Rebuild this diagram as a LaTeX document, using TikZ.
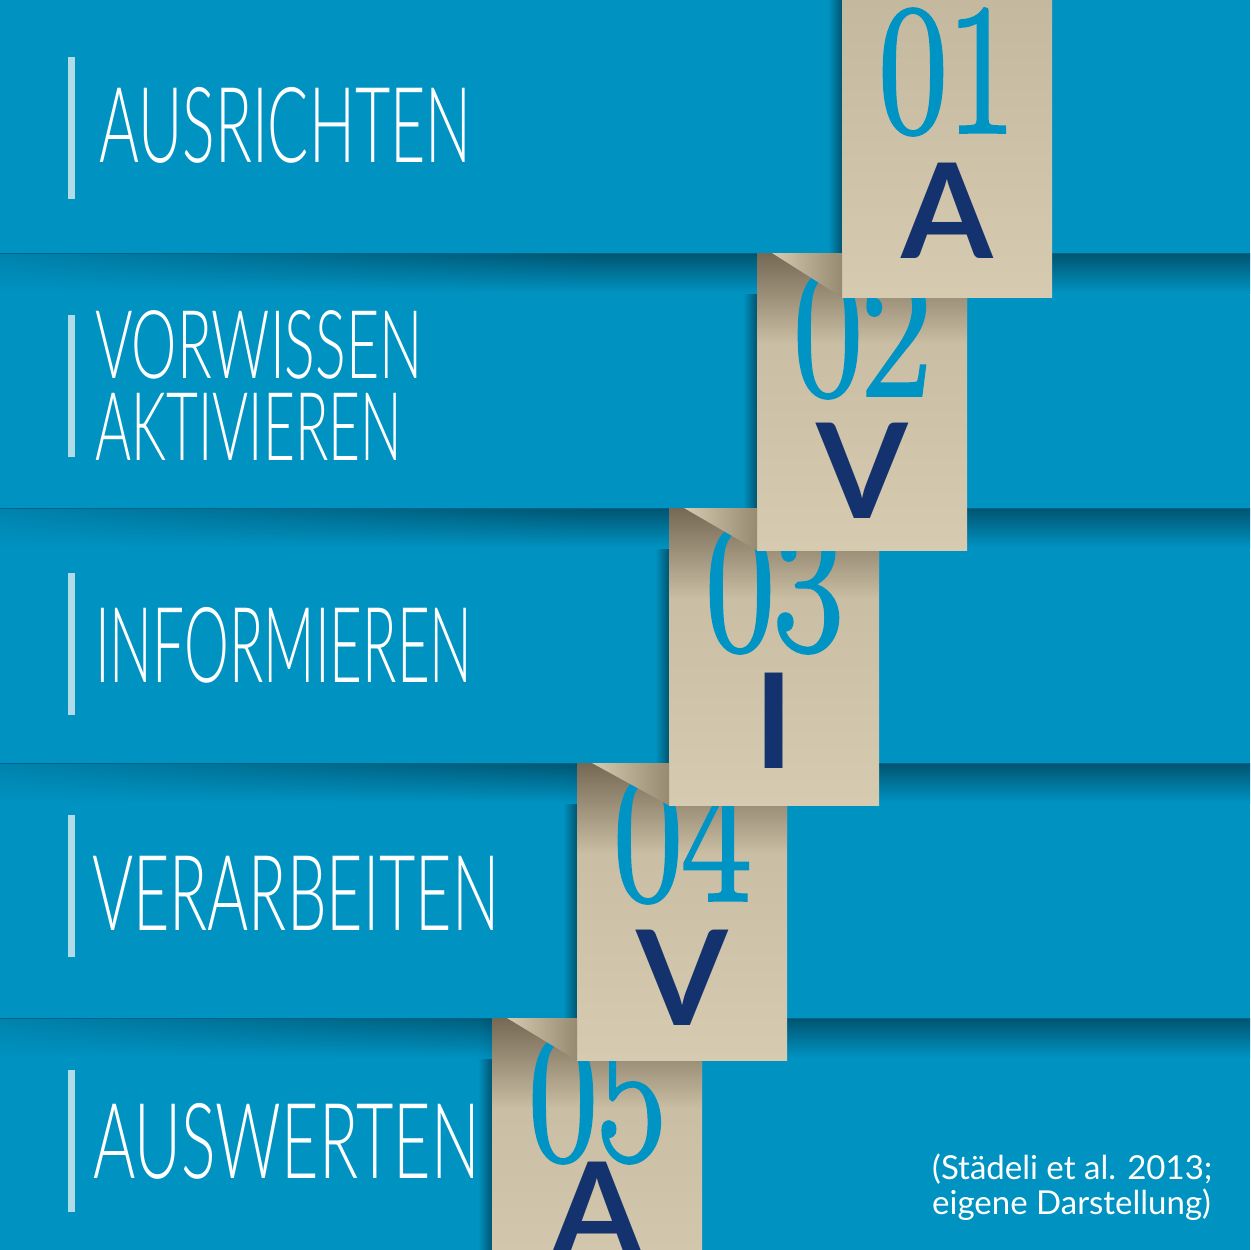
\documentclass[tikz,border=0pt]{standalone}
\usepackage{fontspec}
\setmainfont{Lato}
\newfontfamily\labelfont[FakeStretch=0.58]{Lato Light}
\newfontfamily\numfont[FakeStretch=0.8,FakeBold=2]{Latin Modern Roman}
\usetikzlibrary{positioning}
\usetikzlibrary{calc}
\usetikzlibrary{fadings}

\definecolor{bandblue}{RGB}{0,147,194}
\definecolor{bandshade}{RGB}{0,84,112}
\definecolor{bandline}{RGB}{0,100,136}
\definecolor{tabbeige}{RGB}{214,203,176}
\definecolor{tabtop}{RGB}{196,184,158}
\definecolor{tabshade}{RGB}{118,106,86}
\definecolor{foldlight}{RGB}{214,203,176}
\definecolor{folddark}{RGB}{150,138,112}
\definecolor{navy}{RGB}{20,50,110}
\definecolor{numblue}{RGB}{0,148,196}
\definecolor{barblue}{RGB}{176,220,232}

\newcommand{\wide}[2]{\scalebox{#1}[1]{#2}}

\begin{document}
\begin{tikzpicture}[x=1pt,y=-1pt,
    band/.style={fill=bandblue},
    bandshadow/.style={top color=bandshade, bottom color=bandblue},
    tabbox/.style={inner sep=0pt, minimum width=210pt, minimum height=297pt, anchor=north west,
        top color=tabtop, middle color=tabbeige, bottom color=tabbeige},
    tabshadow/.style={fill=tabshade, path fading=south},
    fold/.style={left color=foldlight, middle color=foldlight, right color=folddark},
    sideshadow/.style={left color=bandblue, right color=bandshade},
    bar/.style={fill=barblue, inner sep=0pt, minimum width=7pt, minimum height=142pt, anchor=north west},
    labtxt/.style={white, inner sep=0pt, anchor=base west, align=left,
        font=\labelfont\fontsize{105}{84}\selectfont},
    numtxt/.style={numblue, inner sep=0pt, anchor=base, font=\numfont\fontsize{186}{186}\selectfont},
    lettxt/.style={navy, inner sep=0pt, anchor=base, font=\bfseries\fontsize{132}{132}\selectfont},
    srctxt/.style={white, inner sep=0pt, anchor=north west, align=left, font=\fontsize{33}{35}\selectfont}
    ]
\useasboundingbox (0,0) rectangle (1250,1250);
\clip (0,0) rectangle (1250,1250);

% band 5
\fill[band] (0,1018) rectangle (1250,1250);
\shade[sideshadow] (478,1018) rectangle (492,1250);
\shade[bandshadow, path fading=west] (-200,1018) rectangle (600,1058);
\shade[bandshadow] (590,1018) rectangle (1250,1058);
\draw[bandline, line width=1.5pt] (0,1018) -- (1250,1018);
\node[tabbox] (tab5) at (492,1018) {};
\fill[tabshadow] (tab5.north west) rectangle ([yshift=-90pt]tab5.north east);
\node[numtxt] (num5) at ([yshift=-142pt]tab5.north) {05};
\node[lettxt] (let5) at ([yshift=-239pt]tab5.north) {A};
\node[bar] (bar5) at (68,1070) {};
\node[labtxt] (lab5) at (93,1178) {\wide{1.06}{AUSWERTEN}};
\node[srctxt] (src) at (932,1154) {(Städeli et al. 2013;\\eigene Darstellung)};

% band 4
\fill[band] (0,763) rectangle (1250,1018);
\shade[sideshadow] (563,763) rectangle (577,1018);
\shade[bandshadow, path fading=west] (-200,763) rectangle (600,803);
\shade[bandshadow] (590,763) rectangle (1250,803);
\draw[bandline, line width=1.5pt] (0,763) -- (1250,763);
\node[tabbox] (tab4) at (577,763) {};
\fill[tabshadow] (tab4.north west) rectangle ([yshift=-90pt]tab4.north east);
\node[numtxt] (num4) at ([yshift=-137pt]tab4.north) {04};
\node[lettxt] (let4) at ([yshift=-262pt]tab4.north) {V};
\node[bar] (bar4) at (68,815) {};
\node[labtxt] (lab4) at (92,930) {\wide{1.03}{VERARBEITEN}};
\shade[fold] ([xshift=15pt]tab5.north west) -- (tab4.south west |- tab5.north) -- (tab4.south west) -- cycle;

% band 3
\fill[band] (0,508) rectangle (1250,763);
\shade[sideshadow] (655,508) rectangle (669,763);
\shade[bandshadow, path fading=west] (-200,508) rectangle (600,548);
\shade[bandshadow] (590,508) rectangle (1250,548);
\draw[bandline, line width=1.5pt] (0,508) -- (1250,508);
\node[tabbox] (tab3) at (669,508) {};
\fill[tabshadow] (tab3.north west) rectangle ([yshift=-90pt]tab3.north east);
\node[numtxt] (num3) at ([yshift=-142pt]tab3.north) {03};
\node[lettxt] (let3) at ([yshift=-260pt]tab3.north) {I};
\node[bar] (bar3) at (68,573) {};
\node[labtxt] (lab3) at (95,682) {\wide{0.93}{INFORMIEREN}};
\shade[fold] ([xshift=15pt]tab4.north west) -- (tab3.south west |- tab4.north) -- (tab3.south west) -- cycle;

% band 2
\fill[band] (0,253) rectangle (1250,508);
\shade[sideshadow] (743,253) rectangle (757,508);
\shade[bandshadow, path fading=west] (-200,253) rectangle (600,293);
\shade[bandshadow] (590,253) rectangle (1250,293);
\draw[bandline, line width=1.5pt] (0,253) -- (1250,253);
\node[tabbox] (tab2) at (757,253) {};
\fill[tabshadow] (tab2.north west) rectangle ([yshift=-90pt]tab2.north east);
\node[numtxt] (num2) at ([yshift=-142pt]tab2.north) {02};
\node[lettxt] (let2) at ([yshift=-265pt]tab2.north) {V};
\node[bar] (bar2) at (68,315) {};
\node[labtxt, font=\labelfont\fontsize{95}{82}\selectfont] (lab2) at (95,460) {\wide{1.04}{VORWISSEN}\\AKTIVIEREN};
\shade[fold] ([xshift=15pt]tab3.north west) -- (tab2.south west |- tab3.north) -- (tab2.south west) -- cycle;

% band 1
\fill[band] (0,0) rectangle (1250,253);
\shade[sideshadow] (828,0) rectangle (842,253);
\node[tabbox] (tab1) at (842,0) {};
\node[numtxt] (num1) at ([yshift=-132pt]tab1.north) {01};
\node[lettxt] (let1) at ([yshift=-258pt]tab1.north) {A};
\node[bar] (bar1) at (68,57) {};
\node[labtxt] (lab1) at (99,162) {AUSRICHTEN};
\shade[fold] ([xshift=15pt]tab2.north west) -- (tab1.south west |- tab2.north) -- (tab1.south west) -- cycle;
\end{tikzpicture}
\end{document}
